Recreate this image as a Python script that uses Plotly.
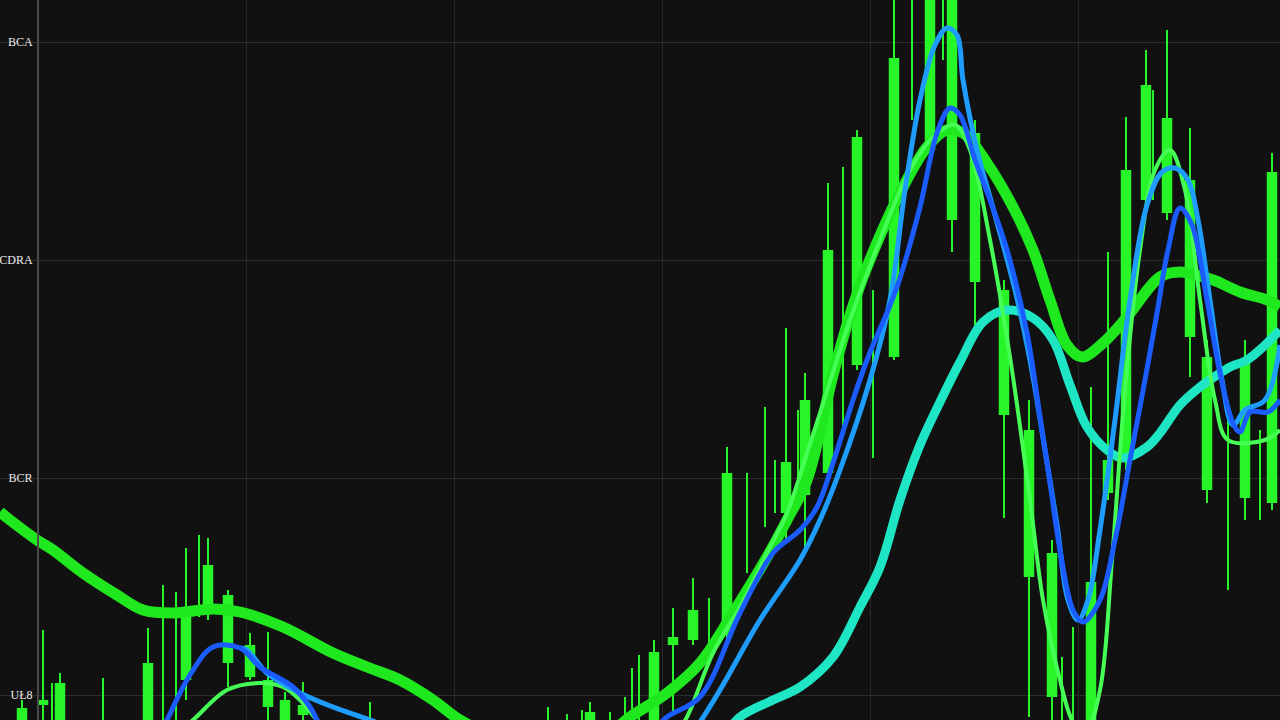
import plotly.graph_objects as go

# ---------------- data ----------------
# candles: x position, open, high, low, close
cx = [-1.6, 0.5, 1.4, 2.2, 6.5, 11.0, 12.5, 13.8, 14.8, 16.1, 17.0, 19.0, 21.2, 23.0, 24.7, 26.5,
      33.2, 51.0, 52.9, 54.4, 55.2, 57.2, 58.7, 59.4, 60.1, 61.6, 63.5, 65.5, 67.1, 68.9, 70.9,
      72.7, 73.7, 74.8, 76.0, 76.7, 79.0, 80.5, 81.9, 83.5, 85.6, 87.4, 89.2, 90.5, 91.4, 93.7,
      96.6, 99.1, 101.4, 102.4, 103.5, 105.3, 107.0, 108.8, 110.8, 111.5, 112.9, 115.2, 116.9,
      119.0, 120.7, 122.2, 123.4]
c_open = [-0.5, 1.5, 1.0, -0.5, 0.4, -0.5, 5.3, 3.0, 4.0, 12.0, 11.3, 5.7, 4.3, 1.3, 0.0, 0.5,
          0.5, 0.3, 0.0, 0.0, -0.5, 0.0, 0.5, 1.0, 1.0, -0.5, 7.5, 8.0, 10.0, 8.7, 21.5,
          25.0, 23.0, 20.7, 27.0, 22.5, 24.7, 42.0, 35.5, 36.3, 36.3, 67.0, 57.0, 70.0, 50.0, 43.8,
          30.5, 14.3, 2.3, 2.0, 2.0, -0.5, 22.7, 26.3, 52.0, 57.0, 50.7, 38.3, 23.0,
          25.0, 22.2, 25.0, 21.7]
c_close = [1.2, 2.0, 1.0, 3.7, 0.4, 5.7, 5.3, 3.0, 10.3, 12.0, 15.5, 12.5, 7.5, 4.0, 2.0, 1.5,
           0.5, 0.3, 0.0, 0.0, 0.8, 0.0, 0.5, 1.0, 1.0, 6.8, 8.3, 11.0, 10.0, 24.7, 21.5,
           25.0, 23.0, 25.8, 27.0, 32.0, 47.0, 42.0, 58.3, 36.3, 66.2, 67.0, 74.0, 70.0, 73.0, 58.7,
           43.0, 29.0, 16.7, 2.0, 2.0, 13.8, 26.0, 55.0, 63.5, 57.0, 60.2, 54.0, 36.3,
           25.0, 35.7, 25.0, 54.8]
c_high = [2.0, 9.0, 3.7, 4.7, 4.2, 9.2, 13.5, 12.8, 17.2, 18.5, 18.2, 13.0, 8.7, 8.8, 2.8, 3.8,
          1.8, 1.3, 0.6, 1.0, 1.8, 0.8, 2.3, 5.2, 6.5, 8.0, 11.2, 14.2, 12.2, 27.3, 24.7,
          31.3, 26.0, 39.2, 31.0, 34.7, 53.7, 55.3, 59.0, 43.0, 73.0, 74.0, 75.0, 74.0, 75.0, 60.0,
          44.0, 32.0, 18.0, 6.3, 9.3, 33.3, 46.8, 60.3, 67.0, 63.0, 69.0, 59.2, 38.0,
          32.0, 38.0, 29.0, 56.7]
c_low = [-1.0, -0.5, -0.5, -1.0, -0.5, -1.0, -0.5, -0.5, 2.0, 10.3, 10.0, 3.3, 4.0, -0.5, -0.5, -0.5,
         -0.5, -0.5, -0.5, -0.5, -1.0, -0.5, -0.5, -0.5, -0.5, -1.0, 0.7, 7.5, 7.7, 8.0, 14.7,
         19.3, 20.7, 18.0, 24.0, 17.3, 24.0, 28.7, 35.0, 26.2, 36.0, 60.0, 56.5, 66.0, 46.8, 39.3,
         20.2, 0.3, -1.0, -0.5, -0.5, -1.0, 22.0, 25.0, 51.0, 52.0, 50.0, 34.3, 21.7,
         13.0, 20.0, 20.0, 21.0]

# moving-average style lines (None = gap below the visible range)
ma_long_x = [-3.8, -2.8, -0.1, 1.5, 4.5, 7.9, 10.5, 13.5, 17.5, 20.2, 24.5, 29.5, 32.9, 36.2, 39.5,
             42.2, 46.2, 52.2, 57.2, 59.2, 62.9, 66.2, 69.5, 72.9, 74.9, 76.9, 79.5, 81.2, 82.9,
             86.2, 88.9, 90.9, 92.5, 94.9, 97.5, 99.5, 101.2, 102.9, 104.4, 106.5, 108.9, 112.2,
             114.2, 117.5, 120.2, 122.9, 124.2]
ma_long_y = [20.8, 20.0, 18.0, 17.0, 14.7, 12.5, 11.0, 10.7, 11.1, 10.8, 9.3, 6.7, 5.3, 4.0, 2.0,
             0.0, -1.8, -2.8, -1.2, 0.3, 2.7, 5.7, 10.7, 16.3, 20.0, 24.0, 34.5, 40.5, 45.3,
             52.7, 57.3, 59.0, 58.7, 55.7, 51.3, 47.0, 42.0, 37.5, 36.3, 37.7, 40.3, 44.3,
             44.8, 44.0, 42.8, 42.0, 41.3]

ma_fast_x = [14.2, 15.5, 18.9, 22.2, 24.5, 26.2, 27.9, 30.2, None,
             63.7, 64.9, 67.5, 70.2, 72.9, 74.9, 76.9, 78.2, 81.2, 84.2, 87.2, 89.7, 91.7, 93.2,
             95.2, 97.2, 99.2, 100.5, 102.2, 103.4, 104.7, 106.2, 107.4, 108.7, 110.2, 111.7,
             113.2, 114.7, 116.2, 117.7, 119.0, 122.7, 124.2]
ma_fast_y = [-1.0, 0.0, 3.0, 3.7, 3.3, 2.0, 0.0, -2.0, None,
             -1.5, 0.3, 6.7, 11.3, 16.7, 20.7, 26.7, 30.7, 40.0, 48.0, 55.0, 58.5, 59.5, 57.0,
             48.0, 36.3, 22.0, 12.0, 4.0, 0.0, -1.5, 3.0, 16.0, 33.0, 47.0, 55.0,
             57.0, 53.0, 42.0, 32.0, 28.0, 28.0, 29.0]

blue_x = [12.2, 12.9, 15.2, 17.5, 20.2, 22.2, 25.5, 27.2, 27.9, 28.7, None,
          61.2, 62.9, 66.2, 70.2, 73.5, 76.2, 77.9, 79.5, 81.5, 82.9, 85.9, 88.2, 89.9, 91.2,
          92.2, 93.7, 95.2, 96.9, 98.9, 100.2, 101.2, 102.2, 103.5, 104.5, 106.2, 107.7, 109.2,
          110.7, 111.9, 113.0, 114.2, 115.4, 116.9, 118.2, 119.5, 120.2, 121.2, 123.0, 124.2]
blue_y = [-1.5, 0.0, 4.5, 7.3, 7.2, 5.3, 3.3, 1.3, 0.0, -1.5, None,
          -1.5, 0.3, 2.3, 10.7, 16.7, 19.0, 21.3, 25.7, 32.0, 36.0, 43.3, 51.3, 58.7, 61.2,
          60.5, 56.0, 52.0, 47.0, 38.7, 30.3, 23.7, 17.0, 11.0, 9.8, 12.0, 18.0, 26.0,
          34.0, 40.7, 47.0, 51.2, 49.5, 42.0, 34.7, 29.7, 28.8, 30.8, 30.8, 32.0]

lightblue_x = [20.2, 20.9, 22.9, 26.2, 29.5, 33.2, 36.2, None,
               65.2, 66.2, 68.2, 72.2, 76.2, 78.2, 80.2, 83.2, 85.2, 86.7, 88.2, 89.7, 90.9, 91.9,
               92.5, 93.9, 95.7, 97.7, 99.2, 100.7, 101.9, 103.0, 104.0, 105.0, 106.2, 107.7, 109.2,
               110.9, 112.4, 113.7, 115.0, 116.0, 117.2, 118.4, 119.5, 120.7, 122.7, 124.2]
lightblue_y = [7.2, 7.0, 4.7, 2.7, 1.3, 0.0, -1.2, None,
               -1.5, -0.2, 3.0, 10.0, 16.0, 20.0, 25.0, 34.0, 42.0, 53.0, 62.0, 67.5, 69.2, 68.5,
               64.0, 57.0, 50.5, 43.0, 36.0, 27.0, 19.5, 12.0, 10.0, 12.0, 19.0, 30.0, 42.0,
               51.5, 54.8, 55.2, 54.0, 50.0, 42.0, 34.0, 29.5, 31.0, 32.0, 37.5]

cyan_x = [68.7, 70.2, 73.5, 76.2, 79.5, 82.2, 84.2, 86.2, 88.2, 90.2, 92.2, 94.5, 96.9, 99.5,
          101.5, 103.2, 104.9, 106.9, 108.5, 110.9, 112.2, 114.2, 116.2, 117.9, 119.2, 120.9,
          122.5, 124.2]
cyan_y = [-1.5, 0.3, 2.0, 3.3, 6.3, 11.3, 15.3, 22.0, 27.5, 31.8, 35.8, 39.8, 41.0, 40.2,
          38.0, 33.5, 29.3, 27.0, 26.2, 27.3, 28.7, 31.5, 33.3, 34.5, 35.3, 36.0,
          37.3, 39.0]

y_tick_vals = [2.5, 24.2, 46.0, 67.8]
y_tick_text = ["UŁ8", "BCR", "CDRA", "BCA"]
x_grid_vals = [0, 20.8, 41.6, 62.4, 83.2, 104.0]

# ---------------- figure ----------------
CANDLE = "#27f527"
fig = go.Figure()

# wicks
fig.add_trace(go.Bar(
    x=cx, y=[h - l for h, l in zip(c_high, c_low)], base=c_low, width=0.2,
    marker=dict(color=CANDLE, line=dict(width=0)), hoverinfo="skip"))
# bodies
body_lo = [min(o, c) for o, c in zip(c_open, c_close)]
body_h = [abs(c - o) for o, c in zip(c_open, c_close)]
fig.add_trace(go.Bar(
    x=cx, y=body_h, base=body_lo, width=1.05,
    marker=dict(color=CANDLE, line=dict(width=0)), hoverinfo="skip"))

def add_line(x, y, color, width):
    fig.add_trace(go.Scatter(x=x, y=y, mode="lines",
                             line=dict(color=color, width=width, shape="spline", smoothing=1.0),
                             hoverinfo="skip"))

add_line(cyan_x, cyan_y, "#1ee6c4", 9)
add_line(ma_long_x, ma_long_y, "#1fe81f", 11)
add_line(ma_fast_x, ma_fast_y, "#45ff55", 4)
add_line(lightblue_x, lightblue_y, "#1e9dff", 5)
add_line(blue_x, blue_y, "#1a5cff", 5)

fig.update_layout(
    width=1280, height=720,
    margin=dict(l=0, r=0, t=0, b=0, autoexpand=False),
    paper_bgcolor="#111111", plot_bgcolor="#111111",
    barmode="overlay", showlegend=False,
    xaxis=dict(range=[-3.8, 124.2], tickvals=x_grid_vals, showticklabels=False,
               showgrid=True, gridcolor="#272727", gridwidth=1, automargin=False,
               zeroline=False, showline=False, ticks="", fixedrange=True),
    yaxis=dict(range=[0, 72], tickvals=y_tick_vals, ticktext=y_tick_text,
               anchor="free", position=38 / 1280, automargin=False,
               showline=True, linecolor="#4a4a4a", linewidth=2,
               showgrid=True, gridcolor="#2c2c2c", gridwidth=1,
               zeroline=False, ticks="", ticklabelposition="outside", ticklabelstandoff=2,
               tickfont=dict(family="Liberation Serif", size=12, color="#ececec"),
               fixedrange=True),
)

fig.write_html("out.html", config={"displayModeBar": False})

# remove the default page margin so the 1280x720 figure fills the window
with open("out.html", "r", encoding="utf-8") as f:
    html = f.read()
html = html.replace("<head>", "<head><style>html,body{margin:0;padding:0;background:#111111;overflow:hidden;}</style>", 1)
with open("out.html", "w", encoding="utf-8") as f:
    f.write(html)
